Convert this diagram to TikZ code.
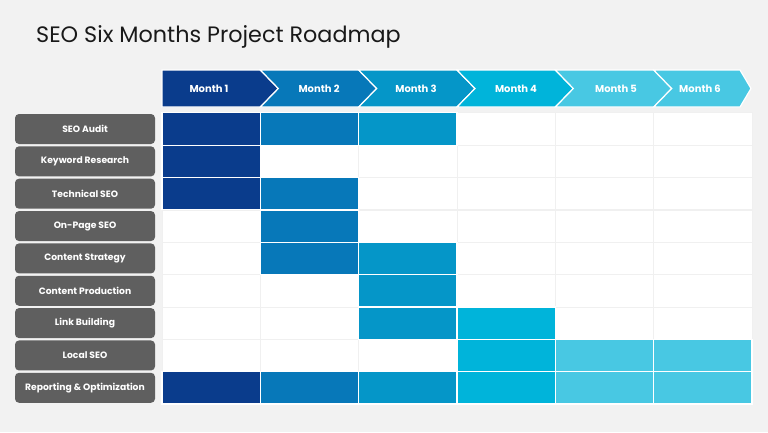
\documentclass[tikz,border=0pt]{standalone}
\usepackage{fontspec}
\setmainfont{Poppins}
\usepackage{tikz}
\usetikzlibrary{positioning}
\definecolor{bg-color}{RGB}{242, 242, 242}
\definecolor{label-color}{RGB}{95, 95, 95}
\definecolor{grid-color}{RGB}{240, 240, 240}
\definecolor{m1-color}{RGB}{10, 60, 140}
\definecolor{m2-color}{RGB}{7, 120, 185}
\definecolor{m3-color}{RGB}{5, 150, 200}
\definecolor{m4-color}{RGB}{0, 180, 218}
\definecolor{m5-color}{RGB}{72, 200, 227}
\definecolor{m6-color}{RGB}{72, 200, 227}
\tikzset{
  taskbox/.style={rectangle, rounded corners=4pt, fill=label-color, text=white,
    font=\bfseries\fontsize{9.2}{11}\selectfont, minimum width=140pt, minimum height=30pt},
  monthtext/.style={text=white, font=\bfseries\fontsize{10}{12}\selectfont},
  chev/.style={draw=white, line width=1.2pt, line join=miter},
  cellbox/.style={rectangle, minimum width=98.3pt, minimum height=32.3pt, inner sep=0pt}
}
\begin{document}
\begin{tikzpicture}[x=1pt, y=-1pt, node distance=32.35pt]
\fill[bg-color] (0,0) rectangle (768,432);
\useasboundingbox (0,0) rectangle (768,432);

\node (title) [anchor=base west, inner sep=0pt, font=\fontsize{22.3}{26}\selectfont, text=black!90] at (36,42) {SEO Six Months Project Roadmap};

% header
\fill[m1-color, chev] (162,70) -- (260.3,70) -- (278.3,88.5) -- (260.3,107) -- (162,107) -- cycle;
\foreach \k/\col in {2/m2-color, 3/m3-color, 4/m4-color, 5/m5-color} {
  \pgfmathsetmacro{\xa}{162+98.33*(\k-1)}
  \pgfmathsetmacro{\xb}{162+98.33*\k}
  \fill[\col, chev] (\xa,70) -- (\xb,70) -- (\xb+18,88.5) -- (\xb,107) -- (\xa,107) -- (\xa+18,88.5) -- cycle;
}
\fill[m6-color, chev] (653.7,70) -- (740,70) -- (751,88.5) -- (740,107) -- (653.7,107) -- (671.7,88.5) -- cycle;
\node (m1) [monthtext] at (209,88.5) {Month 1};
\node (m2) [monthtext] at (319,88.5) {Month 2};
\node (m3) [monthtext] at (416,88.5) {Month 3};
\node (m4) [monthtext] at (516,88.5) {Month 4};
\node (m5) [monthtext] at (616,88.5) {Month 5};
\node (m6) [monthtext] at (700,88.5) {Month 6};

% tasks
\node (audit) [taskbox] at (85,129) {SEO Audit};
\node (keyword) [taskbox, below of=audit] {Keyword Research};
\node (technical) [taskbox, below of=keyword] {Technical SEO};
\node (onpage) [taskbox, below of=technical] {On-Page SEO};
\node (strategy) [taskbox, below of=onpage] {Content Strategy};
\node (production) [taskbox, below of=strategy] {Content Production};
\node (links) [taskbox, below of=production] {Link Building};
\node (local) [taskbox, below of=links] {Local SEO};
\node (reporting) [taskbox, below of=local] {Reporting \& Optimization};

% grid
\fill[white] (162,112.5) rectangle (752,405);
\foreach \r in {1,...,9} {
  \foreach \k in {1,...,6} {
    \node (c-\r-\k) [cellbox, draw=grid-color, line width=0.8pt] at (211.2+98.33*\k-98.33, 129+32.35*\r-32.35) {};
  }
}
\foreach \r/\k in {1/1, 1/2, 1/3, 2/1, 3/1, 3/2, 4/2, 5/2, 5/3, 6/3, 7/3, 7/4, 8/4, 8/5, 8/6,
                   9/1, 9/2, 9/3, 9/4, 9/5, 9/6} {
  \node [cellbox, fill=m\k-color, draw=white, line width=1.2pt] at (c-\r-\k) {};
}
\end{tikzpicture}
\end{document}
